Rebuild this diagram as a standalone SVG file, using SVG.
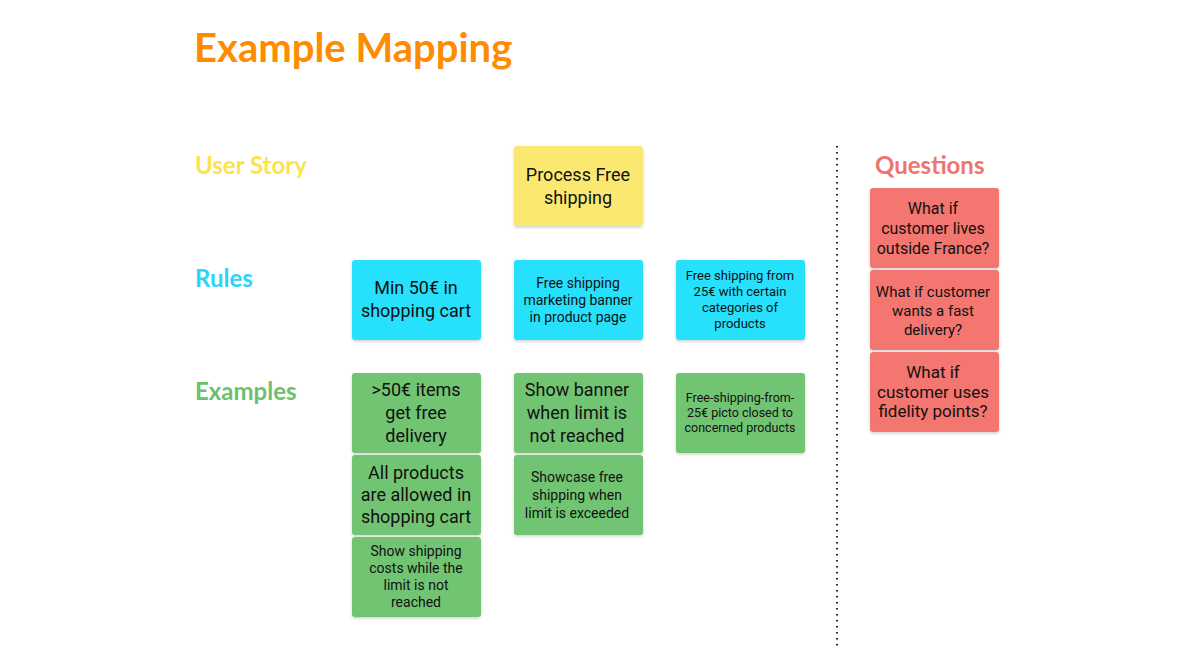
<svg xmlns="http://www.w3.org/2000/svg" width="1200" height="664" viewBox="0 0 1200 664">
<defs>
<filter id="sh" x="-10%" y="-10%" width="120%" height="130%"><feDropShadow dx="0" dy="1.5" stdDeviation="1.5" flood-color="#000" flood-opacity="0.18"/></filter>
<style>
.h{font-family:"Lato","Open Sans",sans-serif;font-weight:700}
.t{font-family:Roboto,"Liberation Sans",sans-serif;fill:#111;text-anchor:middle}
.s{filter:url(#sh)}
.y{fill:#fbe870}.c{fill:#26e0fc}.g{fill:#71c471}.r{fill:#f47670}
</style>
</defs>
<rect width="1200" height="664" fill="#fff"/>
<text class="h" x="194" y="62" font-size="40" fill="#ff8c00">Example Mapping</text>
<text class="h" x="195" y="174" font-size="24" fill="#fde24c">User Story</text>
<text class="h" x="195" y="287" font-size="24" fill="#2ad4fb">Rules</text>
<text class="h" x="195" y="400" font-size="24" fill="#6cc06c">Examples</text>
<text class="h" x="875" y="174" font-size="24" fill="#f0746e">Questions</text>
<g id="connectors"><line x1="837" y1="146" x2="837" y2="650" stroke="#222" stroke-width="2" stroke-dasharray="1.5 4.5"/></g>
<g id="us"><rect class="s y" x="514" y="146" width="129" height="80" rx="3"/><text class="t" font-size="18"><tspan x="578" y="181">Process Free</tspan><tspan x="578" y="204">shipping</tspan></text></g>
<g id="r1"><rect class="s c" x="352" y="260" width="129" height="80" rx="3"/><text class="t" font-size="18"><tspan x="416" y="294">Min 50€ in</tspan><tspan x="416" y="317">shopping cart</tspan></text></g>
<g id="r2"><rect class="s c" x="514" y="260" width="129" height="80" rx="3"/><text class="t" font-size="14"><tspan x="578" y="288">Free shipping</tspan><tspan x="578" y="305">marketing banner</tspan><tspan x="578" y="322">in product page</tspan></text></g>
<g id="r3"><rect class="s c" x="676" y="260" width="129" height="80" rx="3"/><text class="t" font-size="13"><tspan x="740" y="280">Free shipping from</tspan><tspan x="740" y="296">25€ with certain</tspan><tspan x="740" y="312">categories of</tspan><tspan x="740" y="328">products</tspan></text></g>
<g id="e1"><rect class="s g" x="352" y="373" width="129" height="80" rx="3"/><text class="t" font-size="18"><tspan x="416" y="396">&gt;50€ items</tspan><tspan x="416" y="419">get free</tspan><tspan x="416" y="442">delivery</tspan></text></g>
<g id="e2"><rect class="s g" x="352" y="455" width="129" height="80" rx="3"/><text class="t" font-size="18"><tspan x="416" y="479">All products</tspan><tspan x="416" y="501">are allowed in</tspan><tspan x="416" y="523">shopping cart</tspan></text></g>
<g id="e3"><rect class="s g" x="352" y="537" width="129" height="80" rx="3"/><text class="t" font-size="14"><tspan x="416" y="556">Show shipping</tspan><tspan x="416" y="573">costs while the</tspan><tspan x="416" y="590">limit is not</tspan><tspan x="416" y="607">reached</tspan></text></g>
<g id="e4"><rect class="s g" x="514" y="373" width="129" height="80" rx="3"/><text class="t" font-size="18"><tspan x="577" y="396">Show banner</tspan><tspan x="577" y="419">when limit is</tspan><tspan x="577" y="442">not reached</tspan></text></g>
<g id="e5"><rect class="s g" x="514" y="455" width="129" height="80" rx="3"/><text class="t" font-size="14"><tspan x="577" y="482">Showcase free</tspan><tspan x="577" y="500">shipping when</tspan><tspan x="577" y="518">limit is exceeded</tspan></text></g>
<g id="e6"><rect class="s g" x="676" y="373" width="129" height="80" rx="3"/><text class="t" font-size="12.5"><tspan x="740" y="402">Free-shipping-from-</tspan><tspan x="740" y="417">25€ picto closed to</tspan><tspan x="740" y="432">concerned products</tspan></text></g>
<g id="q1"><rect class="s r" x="870" y="188" width="129" height="80" rx="3"/><text class="t" font-size="16"><tspan x="933" y="214">What if</tspan><tspan x="933" y="234">customer lives</tspan><tspan x="933" y="254">outside France?</tspan></text></g>
<g id="q2"><rect class="s r" x="870" y="270" width="129" height="80" rx="3"/><text class="t" font-size="15"><tspan x="933" y="297">What if customer</tspan><tspan x="933" y="316">wants a fast</tspan><tspan x="933" y="335">delivery?</tspan></text></g>
<g id="q3"><rect class="s r" x="870" y="352" width="129" height="80" rx="3"/><text class="t" font-size="17"><tspan x="933" y="378">What if</tspan><tspan x="933" y="398">customer uses</tspan><tspan x="933" y="417">fidelity points?</tspan></text></g>
</svg>
